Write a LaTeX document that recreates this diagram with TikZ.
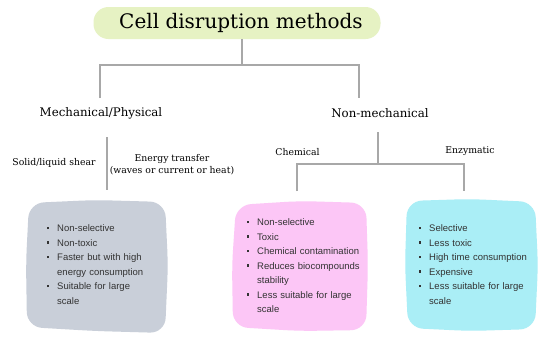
\documentclass[tikz,border=0pt]{standalone}
\usepackage{fontspec}
\setmainfont{Liberation Sans}
\newfontfamily\slab{DejaVu Serif}
\definecolor{pillgreen}{HTML}{E6F2C3}
\definecolor{boxgray}{HTML}{C9CFD9}
\definecolor{boxpink}{HTML}{FCC6F6}
\definecolor{boxcyan}{HTML}{AAEEF6}
\definecolor{linegray}{HTML}{A8A8A8}
\definecolor{txt}{HTML}{333333}
\newcommand\bitem[1]{\hangindent=10pt\hangafter=1\noindent\makebox[10pt][l]{\rule[2.6pt]{2.2pt}{2.2pt}}#1\par}
\tikzset{
  conn/.style={draw=linegray,line width=1.6pt},
  head/.style={font=\slab\fontsize{11.8}{14}\selectfont,text=black,inner sep=0pt},
  sub/.style={font=\slab\fontsize{9.3}{12.5}\selectfont,text=black,inner sep=0pt,align=center},
  listtxt/.style={anchor=north west,inner sep=0pt,text=txt,text width=120pt,
    font=\fontsize{9.5}{14.5}\selectfont},
}
\begin{document}
\begin{tikzpicture}[x=1pt,y=-1pt]
\useasboundingbox (0,0) rectangle (550,341);
\fill[white] (0,0) rectangle (550,341);
% title
\node[fill=pillgreen,rounded corners=15pt,minimum width=287pt,minimum height=32pt,inner sep=0pt,
  font=\slab\fontsize{20}{24}\selectfont] (title) at (237,23) {\hspace*{8pt}Cell disruption methods};
% level 1
\node[head] (mech) at (101,113) {Mechanical/Physical};
\node[head] (nonmech) at (380,113) {Non-mechanical};
\coordinate (j1) at (242,65);
\coordinate (m1) at (100,98);
\coordinate (n1) at (359,98);
\draw[conn] (j1 |- title.south) -- (j1);
\draw[conn] (m1) |- (j1) -| (n1);
% mechanical children
\node[sub] (shear) at (54,163) {Solid/liquid shear};
\node[sub] (energy) at (172,164.5) {Energy transfer\\(waves or current or heat)};
\coordinate (ms1) at (107,137);
\coordinate (ms2) at (107,190);
\draw[conn] (ms1) -- (ms2);
% non-mechanical children
\node[sub] (chem) at (297.5,152) {Chemical};
\node[sub] (enz) at (470,151) {Enzymatic};
\coordinate (nm1) at (378,132);
\coordinate (nm2) at (378,164);
\coordinate (c1) at (297,191);
\coordinate (e1) at (464,191);
\draw[conn] (nm1) -- (nm2);
\draw[conn] (c1) |- (nm2) -| (e1);
% boxes
\fill[boxgray,rounded corners=15pt] (29,203) -- (95,200) -- (165,202) -- (168,265) -- (165,333) -- (95,331) -- (27,327) -- (26,262) -- cycle;
\fill[boxpink,rounded corners=15pt] (236,205) -- (300,201) -- (366,203) -- (368,265) -- (366,330) -- (300,331) -- (233,327) -- (232,265) -- cycle;
\fill[boxcyan,rounded corners=15pt] (407,201) -- (470,199) -- (535,202) -- (538,265) -- (535,329) -- (470,331) -- (408,328) -- (405,265) -- cycle;
% lists
\node[listtxt] (glist) at (47,221.3) {\strut
  \bitem{Non-selective}
  \bitem{Non-toxic}
  \bitem{Faster but with high\newline energy consumption}
  \bitem{Suitable for large\newline scale}};
\node[listtxt] (plist) at (247,215.3) {\strut
  \bitem{Non-selective}
  \bitem{Toxic}
  \bitem{Chemical contamination}
  \bitem{Reduces biocompounds\newline stability}
  \bitem{Less suitable for large\newline scale}};
\node[listtxt] (clist) at (419,221.3) {\strut
  \bitem{Selective}
  \bitem{Less toxic}
  \bitem{High time consumption}
  \bitem{Expensive}
  \bitem{Less suitable for large\newline scale}};
\end{tikzpicture}
\end{document}
